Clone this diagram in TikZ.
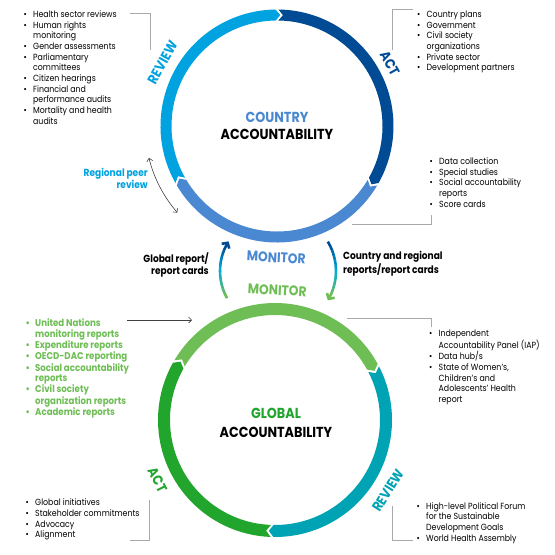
\documentclass[tikz,border=0pt]{standalone}
\usepackage{fontspec}
\setmainfont{Poppins}[FakeStretch=0.88]
\usetikzlibrary{arrows.meta}
\definecolor{lblue}{RGB}{0,163,224}
\definecolor{dblue}{RGB}{0,75,147}
\definecolor{mblue}{RGB}{74,137,210}
\definecolor{lgreen}{RGB}{110,190,85}
\definecolor{tealc}{RGB}{0,163,180}
\definecolor{dgreen}{RGB}{34,165,45}
\definecolor{brk}{RGB}{170,170,170}
\definecolor{arrcyan}{RGB}{0,170,220}
\newlength\bw \setlength\bw{9.5pt}
\newcommand\bu{\makebox[\bw][l]{\textbullet}}
\newcommand\ind{\hspace*{\bw}}
\def\tipd{2.4}
\def\gp{0.7}
% #1 colour, #2 tail angle, #3 head angle, #4 inner r, #5 outer r
\newcommand\ringseg[5]{%
  \fill[#1] ({#2-\gp}:#5) arc[start angle={#2-\gp}, end angle={#3+\gp}, radius=#5]
    -- ({#3+\gp-\tipd}:{(#4+#5)/2}) -- ({#3+\gp}:#4)
    arc[start angle={#3+\gp}, end angle={#2-\gp}, radius=#4]
    -- ({#2-\gp-\tipd}:{(#4+#5)/2}) -- cycle;}
\begin{document}
\begin{tikzpicture}[x=1pt,y=1pt,
  listtext/.style={anchor=base west, inner sep=0pt, font=\fontsize{8.9}{10.7}\selectfont},
  ringlabel/.style={font=\fontsize{14}{15}\selectfont\bfseries, inner sep=0pt},
  bigtitle/.style={font=\fontsize{14.5}{16}\selectfont\bfseries, anchor=base, inner sep=0pt},
  boldlabel/.style={font=\fontsize{10.3}{11.5}\selectfont\bfseries, inner sep=0pt},
  bracket/.style={draw=brk, line width=0.8pt},
  thinarrow/.style={draw=black!75, line width=0.6pt},
  monlabel/.style={font=\fontsize{14}{15}\selectfont\bfseries, anchor=base, inner sep=0pt}
]
\useasboundingbox (0,0) rectangle (555,-555);
\fill[white] (0,0) rectangle (555,-555);

% ---------- Country circle ----------
\begin{scope}[shift={(277,-126)}]
  \ringseg{lblue}{210}{90}{105.5}{116.5}
  \ringseg{dblue}{90}{-30}{105.5}{116.5}
  \ringseg{mblue}{-30}{-150}{105.5}{116.5}
  \node[ringlabel, text=lblue, rotate=61] (creview) at (151:131) {REVIEW};
  \node[ringlabel, text=dblue, rotate=-61] (cact) at (29:129) {ACT};
  \coordinate (rp1) at (194:132);
  \coordinate (rp2) at (221:132);
\end{scope}
\draw[thinarrow, {Straight Barb[length=3pt,width=6pt]}-{Straight Barb[length=3pt,width=6pt]}]
  (rp1) arc[start angle=194, end angle=221, radius=132];
\node[bigtitle, text=mblue] (country) at (277,-122) {COUNTRY};
\node[bigtitle] (cacc) at (277,-139) {ACCOUNTABILITY};

% ---------- Global circle ----------
\begin{scope}[shift={(275,-420)}]
  \ringseg{lgreen}{150}{28}{105}{117}
  \ringseg{tealc}{28}{-91.5}{105}{117}
  \ringseg{dgreen}{-91.5}{-210}{105}{117}
  \node[ringlabel, text=dgreen, rotate=-63] (gact) at (207:132) {ACT};
  \node[ringlabel, text=tealc, rotate=58] (greview) at (-32:133) {REVIEW};
\end{scope}
\node[bigtitle, text=dgreen] (global) at (276,-418) {GLOBAL};
\node[bigtitle] (gacc) at (276,-437) {ACCOUNTABILITY};

% ---------- Monitor labels and arrows ----------
\node[monlabel, text=mblue, rotate=-3] (mon1) at (276,-262.5) {MONITOR};
\node[monlabel, text=lgreen, rotate=-3] (mon2) at (277,-295) {MONITOR};

\begin{scope}[shift={(276,-271)}]
  \coordinate (la1) at (209:56);
  \coordinate (la2) at (148:56);
  \foreach \i in {0,...,11}{
    \pgfmathsetmacro\sa{209-\i*(209-152)/12}
    \pgfmathsetmacro\ea{209-(\i+1)*(209-152)/12-0.3}
    \pgfmathtruncatemacro\p{\i<6 ? 100*\i/6 : 100*(\i-6)/5}
    \ifnum\i<6
      \draw[line width=2.6pt, color=arrcyan!\p!lgreen] (\sa:56) arc[start angle=\sa, end angle=\ea, radius=56];
    \else
      \draw[line width=2.6pt, color=dblue!\p!arrcyan] (\sa:56) arc[start angle=\sa, end angle=\ea, radius=56];
    \fi
  }
  \draw[line width=2.6pt, dblue, -{Straight Barb[length=4pt,width=9pt]}] (152.3:56) arc[start angle=152.3, end angle=148, radius=56];
\end{scope}
\begin{scope}[shift={(279,-271)}]
  \coordinate (ra1) at (31:57);
  \coordinate (ra2) at (-31:57);
  \foreach \i in {0,...,11}{
    \pgfmathsetmacro\sa{31-\i*(31+27)/12}
    \pgfmathsetmacro\ea{31-(\i+1)*(31+27)/12-0.3}
    \pgfmathtruncatemacro\p{\i<6 ? 100*\i/6 : 100*(\i-6)/5}
    \ifnum\i<6
      \draw[line width=2.6pt, color=arrcyan!\p!dblue] (\sa:57) arc[start angle=\sa, end angle=\ea, radius=57];
    \else
      \draw[line width=2.6pt, color=lgreen!\p!arrcyan] (\sa:57) arc[start angle=\sa, end angle=\ea, radius=57];
    \fi
  }
  \draw[line width=2.6pt, lgreen, -{Straight Barb[length=4pt,width=9pt]}] (-27.3:57) arc[start angle=-27.3, end angle=-31, radius=57];
\end{scope}

\node[boldlabel, anchor=base east, align=right] (glrep) at (209,-274) {Global report/\\report cards};
\node[boldlabel, anchor=base west, align=left] (crrep) at (343,-273.5) {Country and regional\\reports/report cards};
\node[boldlabel, anchor=base east, align=right, text=lblue] (rpr) at (148,-188.3) {Regional peer\\review};

% ---------- Lists ----------
\node[listtext] (l1) at (23.5,-17.3) {\begin{tabular}[t]{@{}l@{}}
\bu Health sector reviews\\ \bu Human rights\\ \ind monitoring\\ \bu Gender assessments\\
\bu Parliamentary\\ \ind committees\\ \bu Citizen hearings\\ \bu Financial and\\
\ind performance audits\\ \bu Mortality and health\\ \ind audits\end{tabular}};
\node[listtext] (l2) at (417,-17.3) {\begin{tabular}[t]{@{}l@{}}
\bu Country plans\\ \bu Government\\ \bu Civil society\\ \ind organizations\\
\bu Private sector\\ \bu Development partners\end{tabular}};
\node[listtext] (l3) at (429.5,-164.3) {\begin{tabular}[t]{@{}l@{}}
\bu Data collection\\ \bu Special studies\\ \bu Social accountability\\ \ind reports\\
\bu Score cards\end{tabular}};
\node[listtext, text=lgreen, font=\fontsize{9.8}{10.8}\selectfont\bfseries] (l4) at (25.5,-326.7) {\begin{tabular}[t]{@{}l@{}}
\bu United Nations\\ \ind monitoring reports\\ \bu Expenditure reports\\ \bu OECD-DAC reporting\\
\bu Social accountability\\ \ind reports\\ \bu Civil society\\ \ind organization reports\\
\bu Academic reports\end{tabular}};
\node[listtext] (l5) at (429,-336.7) {\begin{tabular}[t]{@{}l@{}}
\bu Independent\\ \ind Accountability Panel (IAP)\\ \bu Data hub/s\\ \bu State of Women’s,\\
\ind Children’s and\\ \ind Adolescents’ Health\\ \ind report\end{tabular}};
\node[listtext] (l6) at (25.5,-505.7) {\begin{tabular}[t]{@{}l@{}}
\bu Global initiatives\\ \bu Stakeholder commitments\\ \bu Advocacy\\ \bu Alignment\end{tabular}};
\node[listtext] (l7) at (416.5,-509) {\begin{tabular}[t]{@{}l@{}}
\bu High-level Political Forum\\ \ind for the Sustainable\\ \ind Development Goals\\
\bu World Health Assembly\end{tabular}};

% ---------- Brackets ----------
\coordinate (b1a) at (130,-13); \coordinate (b1b) at (150,-13); \coordinate (b1c) at (150,-50);
\draw[bracket] (b1a) -- (b1b) -- (b1c);
\coordinate (b2a) at (413,-9); \coordinate (b2b) at (392,-9); \coordinate (b2c) at (392,-50);
\draw[bracket] (b2a) -- (b2b) -- (b2c);
\coordinate (b3a) at (352,-224); \coordinate (b3b) at (431,-224); \coordinate (b3c) at (431,-215);
\draw[bracket] (b3a) -- (b3b) -- (b3c);
\coordinate (b4a) at (347,-318); \coordinate (b4b) at (431,-318); \coordinate (b4c) at (431,-327);
\draw[bracket] (b4a) -- (b4b) -- (b4c);
\coordinate (b5a) at (149,-500); \coordinate (b5b) at (149,-540); \coordinate (b5c) at (130,-540);
\draw[bracket] (b5a) -- (b5b) -- (b5c);
\coordinate (b6a) at (392,-506); \coordinate (b6b) at (392,-540); \coordinate (b6c) at (413,-540);
\draw[bracket] (b6a) -- (b6b) -- (b6c);

% ---------- green list arrow ----------
\coordinate (ga1) at (127,-320); \coordinate (ga2) at (192,-320);
\draw[thinarrow, -{Straight Barb[length=3pt,width=6pt]}] (ga1) -- (ga2);
\end{tikzpicture}
\end{document}
